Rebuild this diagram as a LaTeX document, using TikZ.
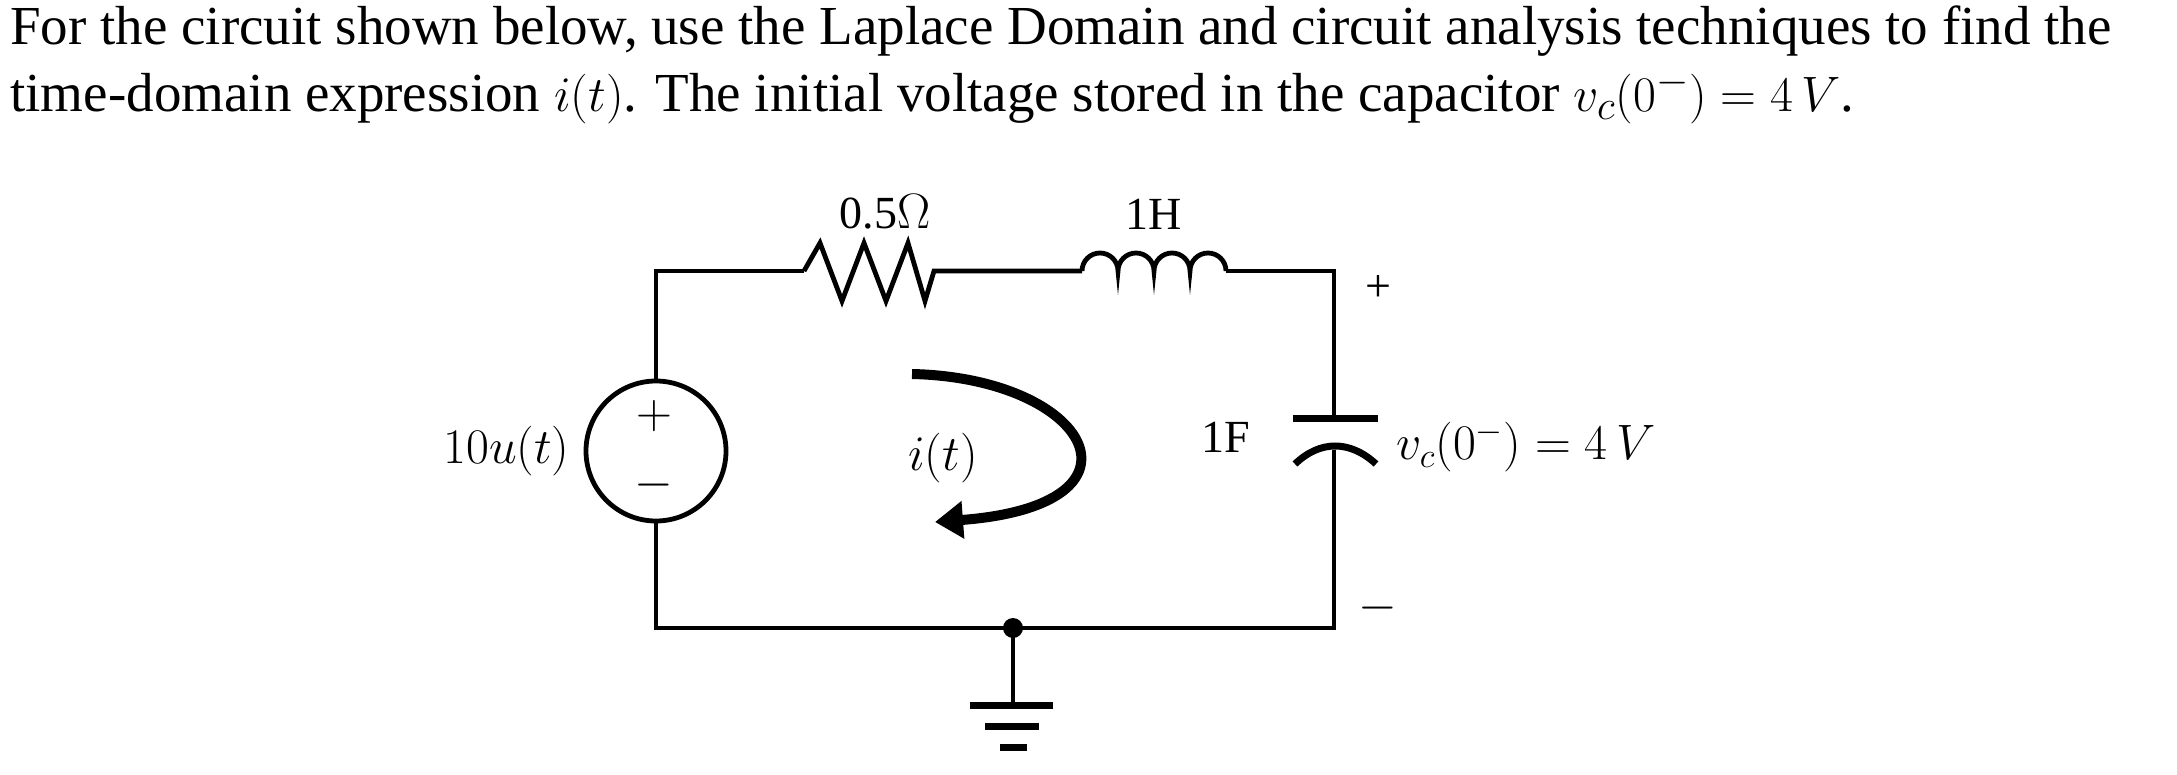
\documentclass[tikz,border=0pt]{standalone}
\usepackage{fontspec}
\setmainfont{Liberation Serif}
\usetikzlibrary{arrows.meta}
\begin{document}
\begin{tikzpicture}[x=0.5pt,y=-0.5pt,
  wire/.style={line width=2.4pt},
  lbl/.style={font=\fontsize{23}{26}\selectfont, inner sep=0pt},
  ttl/.style={font=\fontsize{27.5}{32}\selectfont, anchor=west, inner sep=0pt}]
\useasboundingbox (0,0) rectangle (2177,775);
\node[ttl] (t1) at (10,31) {For the circuit shown below, use the Laplace Domain and circuit analysis techniques to find the};
\node[ttl] (t2) at (10,97) {time-domain expression $i(t)$. The initial voltage stored in the capacitor $v_c(0^-)=4\,V$.};
% corners
\coordinate (tl) at (656,271);
\coordinate (tr) at (1334,271);
\coordinate (bl) at (656,628);
\coordinate (br) at (1334,628);
\coordinate (gnd) at (1013,628);
\coordinate (r1) at (804,271); \coordinate (r2) at (934,271);
\coordinate (l1) at (1082,271); \coordinate (l2) at (1226,271);
\coordinate (c1) at (1334,418); \coordinate (c2) at (1334,450);
\node[draw, circle, line width=2.4pt, minimum size=70pt, inner sep=0pt] (src) at (656,451) {};
\node[lbl] at (654,416) {$+$};
\node[lbl] at (654,485) {$-$};
\draw[wire] (src.north) -- (tl) -- (r1);
\draw[wire] (r1) -- (820,243) -- (842,301) -- (864,243) -- (886,301) -- (908,243) -- (925,301) -- (r2) -- (l1);
\draw[wire] (l1) arc[start angle=180,end angle=0,radius=9pt] arc[start angle=180,end angle=0,radius=9pt] arc[start angle=180,end angle=0,radius=9pt] arc[start angle=180,end angle=0,radius=9pt] -- (l2);
\draw[wire] (l2) -- (tr) -- (c1);
\draw[line width=3.5pt] (1293,418) -- (1378,418);
\draw[line width=3.5pt] (1295,464) .. controls (1320,440) and (1350,440) .. (1376,464);
\draw[wire] (c2) -- (br) -- (bl) -- (src.south);
\fill (gnd) circle (5pt);
\draw[wire] (gnd) -- (1013,705);
\draw[line width=3.5pt] (970,705) -- (1053,705);
\draw[line width=3.5pt] (985,726) -- (1039,726);
\draw[line width=3.5pt] (1000,747) -- (1027,747);
\draw[line width=5pt, -{Triangle[length=14pt,width=18pt]}] (912,374) .. controls (1090,378) and (1160,505) .. (935,522);
\node[lbl] at (885,212) {0.5$\Omega$};
\node[lbl] at (1154,214) {1H};
\node[lbl] at (1378,289) {+};
\node[lbl] at (1378,608) {$-$};
\node[lbl] at (1226,437) {1F};
\node[lbl, anchor=west] at (1396,447) {$v_c(0^-)=4\,V$};
\node[lbl, anchor=east] at (570,451) {$10u(t)$};
\node[lbl] at (943,458) {$i(t)$};
\end{tikzpicture}
\end{document}
